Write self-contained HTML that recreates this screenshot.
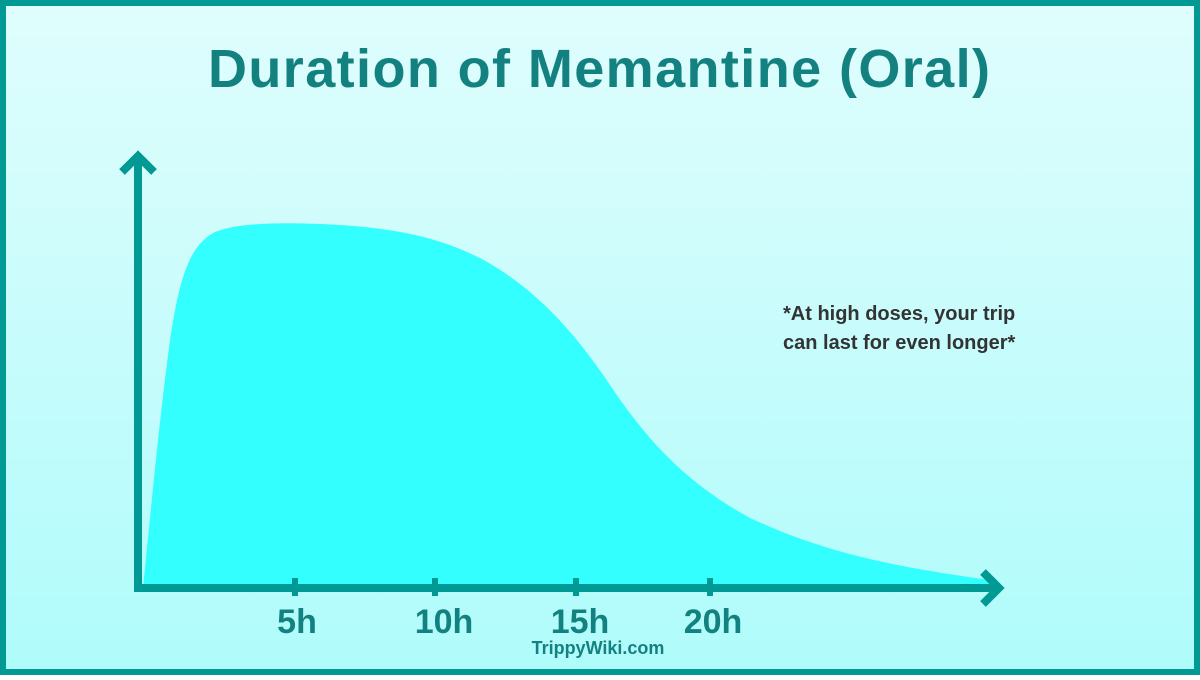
<!DOCTYPE html>
<html><head><style>
html,body{margin:0;padding:0}
body{width:1200px;height:675px;overflow:hidden;font-family:"Liberation Sans",sans-serif}
</style></head><body>
<svg width="1200" height="675" viewBox="0 0 1200 675" xmlns="http://www.w3.org/2000/svg">
<defs><linearGradient id="bg" x1="0" y1="0" x2="0" y2="1">
<stop offset="0" stop-color="#e0fdfd"/><stop offset="1" stop-color="#affcfb"/></linearGradient></defs>
<rect x="0" y="0" width="1200" height="675" fill="url(#bg)"/>
<rect x="3" y="3" width="1194" height="669" fill="none" stroke="#009993" stroke-width="6"/>
<text x="208" y="87" textLength="782" lengthAdjust="spacing" font-size="54" font-weight="bold" fill="#148181">Duration of Memantine (Oral)</text>
<path d="M143,588 C150,520 158,430 170,340 C180,275 190,245 215,232 C240,222 290,222 340,225 C400,229 440,238 480,258 C530,285 570,325 610,385 C650,445 690,485 750,518 C820,550 880,565 990,580 L990,588 Z" fill="#33ffff"/>
<line x1="138" y1="160" x2="138" y2="592" stroke="#009993" stroke-width="8"/>
<polyline points="122,172 138,156 154,172" fill="none" stroke="#009993" stroke-width="8"/>
<line x1="134" y1="588" x2="996" y2="588" stroke="#009993" stroke-width="8"/>
<polyline points="983,572 999,588 983,604" fill="none" stroke="#009993" stroke-width="8"/>
<g stroke="#009993" stroke-width="6">
<line x1="295" y1="578" x2="295" y2="596"/><line x1="435" y1="578" x2="435" y2="596"/>
<line x1="576" y1="578" x2="576" y2="596"/><line x1="710" y1="578" x2="710" y2="596"/></g>
<g font-size="34" font-weight="bold" fill="#148181" text-anchor="middle">
<text x="297" y="633">5h</text><text x="444" y="633">10h</text><text x="580" y="633">15h</text><text x="713" y="633">20h</text></g>
<g font-size="20" font-weight="bold" fill="#333">
<text x="783" y="320">*At high doses, your trip</text><text x="783" y="349">can last for even longer*</text></g>
<text x="598" y="654" text-anchor="middle" font-size="18" font-weight="bold" fill="#148181">TrippyWiki.com</text>
</svg>
</body></html>
